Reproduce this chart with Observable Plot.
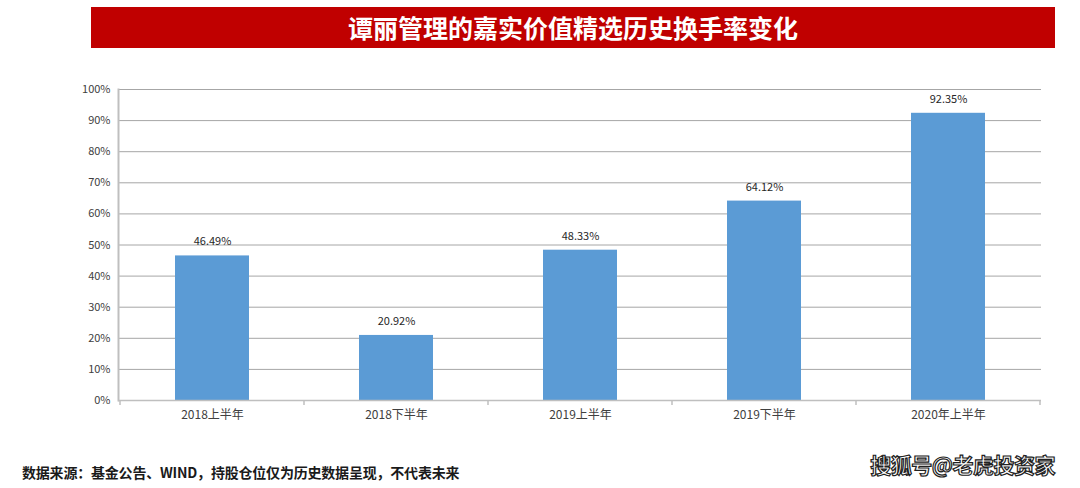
<!DOCTYPE html>
<html><head><meta charset="utf-8">
<script src="https://cdn.jsdelivr.net/npm/d3@7"></script>
<script src="https://cdn.jsdelivr.net/npm/@observablehq/plot@0.6"></script>
<style>
body{margin:0;background:#fff;font-family:"Noto Sans CJK SC","Noto Sans",sans-serif;}
#wrap{position:relative;width:1080px;height:488px;overflow:hidden;}
#banner{position:absolute;left:91px;top:7px;width:964px;height:41px;background:#c00000;color:#fff;font-weight:700;font-size:25px;line-height:41px;text-align:center;letter-spacing:0px;}
#chart{position:absolute;left:0;top:70px;}
#foot{position:absolute;left:22px;top:462px;font-size:14px;font-weight:700;color:#1a1a1a;letter-spacing:-0.2px;}
#mark{position:absolute;right:25px;top:449px;font-size:21px;font-weight:700;color:#fff;-webkit-text-stroke:1.2px #222;letter-spacing:-0.5px;}
</style></head>
<body><div id="wrap">
<div id="banner">谭丽管理的嘉实价值精选历史换手率变化</div>
<div id="chart"></div>
<div id="foot">数据来源：基金公告、WIND，持股仓位仅为历史数据呈现，不代表未来</div>
<div id="mark">搜狐号@老虎投资家</div>
</div>
<script>
const periods = ["2018上半年","2018下半年","2019上半年","2019下半年","2020年上半年"];
const turnover = [46.49, 20.92, 48.33, 64.12, 92.35];
const yTicks = [0,10,20,30,40,50,60,70,80,90,100];

const data = periods.map((p,i)=>({period:p, value:turnover[i]}));
const axisColor = "#bfbfbf";
const gridColor = "#a6a6a6";
const H = 370, MB = 40;

const chart = Plot.plot({
  width: 1080,
  height: H,
  marginLeft: 118,
  marginRight: 39,
  marginTop: 19,
  marginBottom: MB,
  style: {fontFamily: "'Noto Sans CJK SC','Noto Sans',sans-serif", fontSize: "11px", color: "#404040", background: "transparent"},
  x: {domain: periods, paddingInner: 0.6, paddingOuter: 0.3, label: null, tickSize: 0, tickPadding: 10},
  y: {domain: [0,100], ticks: yTicks, tickFormat: d => d + "%", label: null, tickSize: 0, tickPadding: 8},
  marks: [
    Plot.gridY(yTicks, {stroke: gridColor, strokeOpacity: 1, strokeWidth: 1}),
    Plot.barY(data, {x: "period", y: "value", fill: "#5b9bd5"}),
    Plot.text(data, {x: "period", y: "value", text: d => d.value.toFixed(2) + "%", dy: -14, fill: "#262626", fontSize: 11}),
    Plot.ruleY([0], {stroke: axisColor, strokeWidth: 1.5}),
    Plot.frame({anchor: "left", stroke: axisColor, strokeWidth: 2}),
    Plot.axisX({fontSize: 12, tickSize: 0, tickPadding: 10, label: null})
  ]
});
// band-boundary tick marks derived from the x scale
const xs = chart.scale("x");
const step = xs.step, bw = xs.bandwidth;
const y0 = H - MB;
const edges = periods.map(p => xs.apply(p) - (step - bw)/2);
edges.push(xs.apply(periods[periods.length-1]) + bw + (step - bw)/2);
const g = d3.select(chart).append("g");
for (const x of edges) {
  g.append("line").attr("x1",x).attr("x2",x).attr("y1",y0).attr("y2",y0+5)
    .attr("stroke",axisColor).attr("stroke-width",1.5);
}
document.getElementById("chart").appendChild(chart);
</script>
</body></html>
